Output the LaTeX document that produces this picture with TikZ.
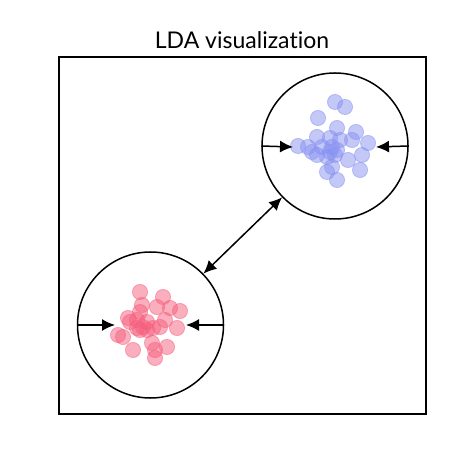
\documentclass[tikz,border=0pt]{standalone}
\usepackage{fontspec}
\setmainfont{Lato}[Ligatures={NoCommon,NoDiscretionary}]
\usepackage{tikz}
\usetikzlibrary{arrows.meta,positioning,calc}

\definecolor{ptred}{RGB}{245,95,125}
\definecolor{ptblue}{RGB}{135,145,240}

\begin{document}
\begin{tikzpicture}[x=0.5pt,y=-0.5pt,>={Latex[length=6.5pt,width=6pt]},
   ring/.style={circle,draw,line width=0.75pt,minimum size=73pt,inner sep=0pt},
   arr/.style={->,line width=0.75pt},
   dotr/.style={fill=ptred,draw=ptred,fill opacity=0.5,draw opacity=0.5},
   dotb/.style={fill=ptblue,draw=ptblue,fill opacity=0.5,draw opacity=0.5}]
  \useasboundingbox (0,0) rectangle (474,474);
  \node[font=\fontsize{11.5}{13}\selectfont] (title) at (242,40) {LDA visualization};
  \draw[line width=0.6pt] (59,57) rectangle (426,414);
  % points
  \foreach \x/\y in {140/292,163/297,142/305,157/307,170/308,180/311,128/318,140/312,
      137/320,130/322,147/322,165/320,160/327,177/328,118/335,123/337,140/330,
      147/330,153/328,152/343,167/347,133/350,155/350,155/358,143/327,137/328}
    \fill[dotr] (\x,\y) circle (3.8pt);
  \foreach \x/\y in {335/102,345/107,318/118,337/128,356/132,317/137,330/138,340/140,
      352/140,368/143,298/146,308/147,322/147,332/147,337/150,317/155,327/157,
      335/155,348/160,362/155,332/167,327/172,360/170,337/180,312/152,330/152}
    \fill[dotb] (\x,\y) circle (3.8pt);
  % circles
  \node[ring] (lo) at (150.5,325) {};
  \node[ring] (hi) at (335,146) {};
  \coordinate (loL) at (115,325);
  \coordinate (loR) at (186,325);
  \coordinate (hiL) at (293,147);
  \coordinate (hiR) at (376,147);
  \draw[arr] (lo.west)--(loL); \draw[arr] (lo.east)--(loR);
  \draw[arr] (hi.west)--(hiL); \draw[arr] (hi.east)--(hiR);
  \draw[<->,line width=0.75pt] (lo)--(hi);
\end{tikzpicture}
\end{document}
